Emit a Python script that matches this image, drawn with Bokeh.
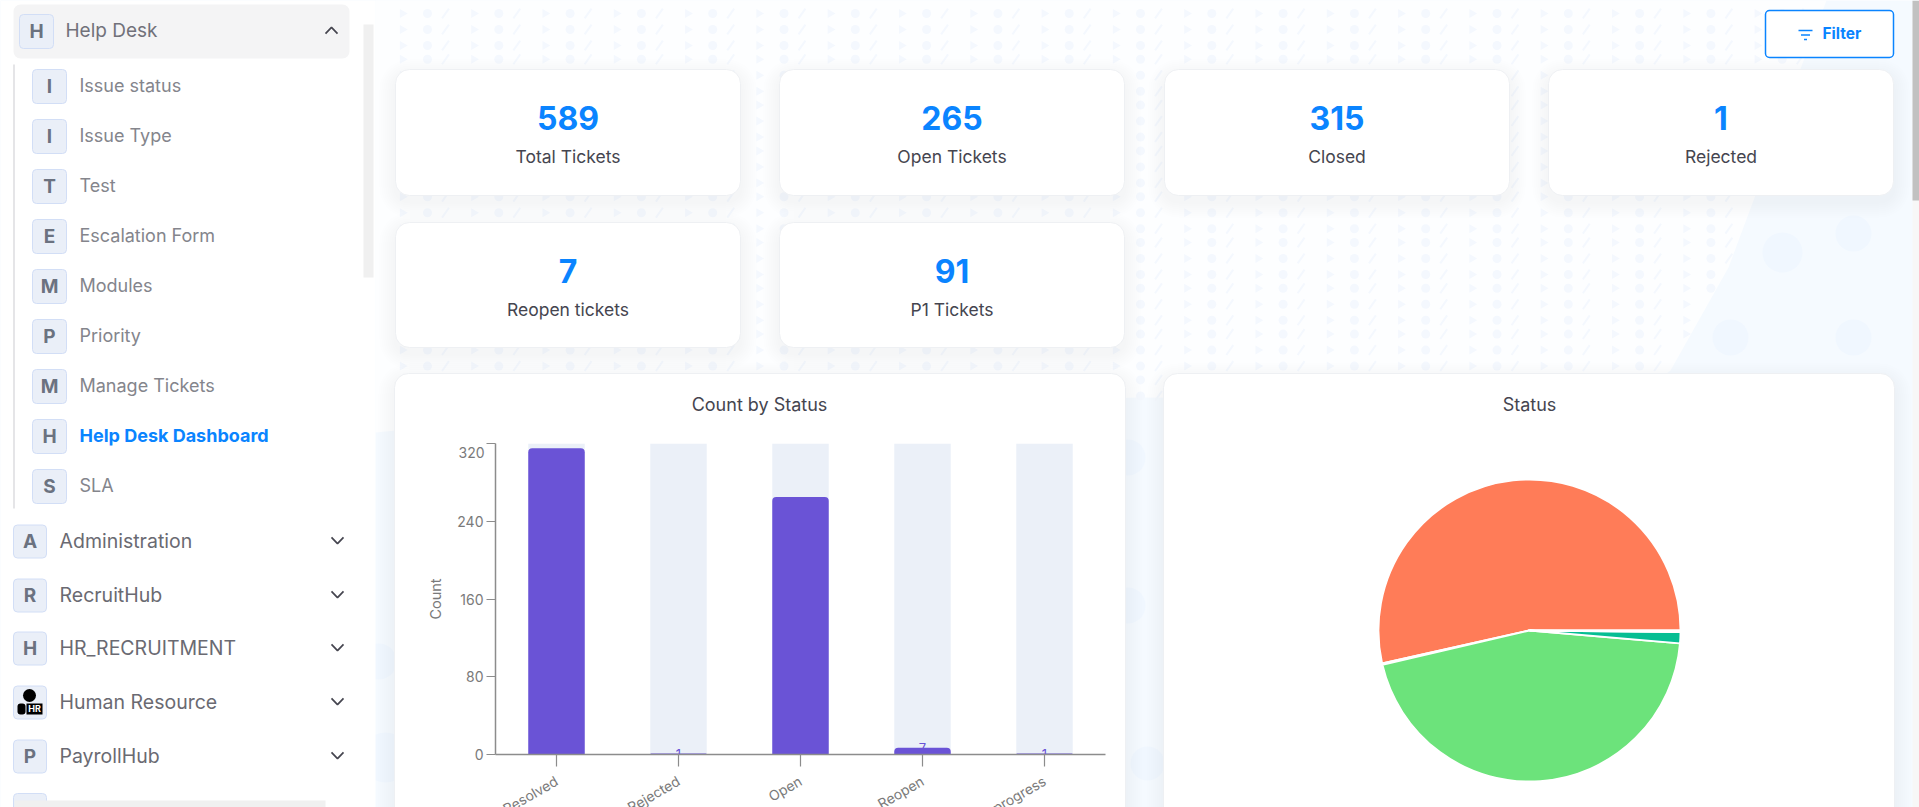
import math

import numpy as np
from bokeh.core.properties import value
from bokeh.embed import file_html
from bokeh.models import ColumnDataSource, FactorRange, FixedTicker, GridBox, Range1d
from bokeh.plotting import figure
from bokeh.resources import INLINE

statuses = ["Resolved", "Rejected", "Open", "Reopen", "Inprogress"]
status_counts = [315, 1, 265, 7, 1]
y_ticks = [0, 80, 160, 240, 320]
pie_colors = ["#ff7c58", "#e9e9ee", "#6ce37b", "#05be93", "#e9e9ee"]

kpi_values = ["589", "265", "315", "1", "7", "91"]
kpi_labels = ["Total Tickets", "Open Tickets", "Closed", "Rejected", "Reopen tickets", "P1 Tickets"]

sub_menu = ["Issue status", "Issue Type", "Test", "Escalation Form", "Modules", "Priority",
            "Manage Tickets", "Help Desk Dashboard", "SLA"]
main_menu = ["Administration", "RecruitHub", "HR_RECRUITMENT", "Human Resource", "PayrollHub"]

FONT = "Inter"
BLUE = "#0a84ff"
PURPLE = "#6a53d6"
AXIS = "#8c8c8c"
DARK = "#45454f"

bg = figure(width=1919, height=807, x_range=Range1d(0, 1919), y_range=Range1d(807, 0),
            x_axis_location=None, y_axis_location=None, frame_align=False,
            min_border=0, outline_line_color=None, toolbar_location=None,
            output_backend="svg", background_fill_color="#f5faff", border_fill_color="#f5faff")
bg.grid.visible = False


def put_text(x, y, text, size, color, align="left", style="normal", angle=0):
    bg.text(x=[x], y=[y - 1], text=[text], text_font=value(FONT), text_font_size=f"{size}px",
            text_color=color, text_align=align, text_baseline="middle",
            text_font_style=style, angle=angle)


def round_box(x0, y0, x1, y1, fill, line=None, radius=14, width=1):
    bg.quad(left=[x0], right=[x1], top=[y0], bottom=[y1], fill_color=fill, line_color=line,
            line_width=width, border_radius=radius)


def card(x0, y0, x1, y1):
    for grow in range(16, 0, -2):
        bg.quad(left=[x0 - grow], right=[x1 + grow], top=[y0 - grow + 6], bottom=[y1 + grow + 6],
                fill_color="#6d7f9c", fill_alpha=0.007, line_color=None, border_radius=14 + grow)
    round_box(x0, y0, x1, y1, "#ffffff", "#eef0f3")


def chevron(x, y, up=False):
    d = -4 if up else 4
    bg.line(x=[x - 6, x, x + 6], y=[y - d / 1.3, y + d / 1.3, y - d / 1.3], line_color="#45454f",
            line_width=1.7)


# page background: white shape with the dotted pattern on top of the pale blue
edge_y = [0, 63, 200, 267, 370, 400]
edge_x = [1826, 1802, 1753, 1728, 1670, 1630]
bg.patch(x=[375] + edge_x + [1140, 600, 375], y=[0] + edge_y + [397, 410, 432],
         fill_color="#fdfeff", line_color=None)

dots_x, dots_y, chev_x, chev_y, slash_x, slash_y = [], [], [], [], [], []
for row in range(9):
    for off in (0, 16, 32):
        y = 13 + 45.8 * row + off
        if y > 396:
            continue
        limit = np.interp(y, edge_y, edge_x)
        for col in range(22):
            x = 427 + 71.3 * col
            if x < limit:
                dots_x.append(x)
                dots_y.append(y)
            if x - 25 < limit:
                chev_x.append(x - 25)
                chev_y.append(y)
            if x + 18 < limit:
                slash_x.append(x + 18)
                slash_y.append(y)
bg.scatter(dots_x, dots_y, marker="circle", size=9, fill_color="#f4f8fe", line_color=None)
bg.scatter(chev_x, chev_y, marker="triangle", size=9, angle=-math.pi / 2,
           fill_color="#f4f8fe", line_color=None)
bg.scatter(slash_x, slash_y, marker="dash", size=12, angle=math.radians(55),
           line_color="#f4f8fe", line_width=2)

blob_x = [1782, 1853, 1730, 1853, 1127, 1127, 1147, 378, 385]
blob_y = [252, 233, 337, 337, 457, 605, 763, 661, 757]
blob_r = [20, 18, 18, 18, 18, 18, 17, 18, 25]
bg.circle(blob_x, blob_y, radius=blob_r, fill_color="#f0f7ff", line_color=None)

# kpi cards
card_x = [(395, 740), (779, 1124), (1164, 1509), (1548, 1893), (395, 740), (779, 1124)]
card_y = [(69, 195)] * 4 + [(222, 347)] * 2
for (x0, x1), (y0, y1), kpi, label in zip(card_x, card_y, kpi_values, kpi_labels):
    card(x0, y0, x1, y1)
    put_text((x0 + x1) / 2, y0 + 49, kpi, 32, BLUE, "center", "bold")
    put_text((x0 + x1) / 2, y0 + 88, label, 17.5, DARK, "center")

# chart cards
card(394, 373, 1125, 860)
card(1163, 373, 1894, 860)
put_text(759, 405, "Count by Status", 18, DARK, "center")
put_text(1529, 405, "Status", 18, DARK, "center")
put_text(484, 453, "320", 14, "#7a7a7a", "right")

# filter button
round_box(1765, 10, 1893, 57, "#ffffff", BLUE, radius=4, width=1.5)
for half, y in zip([7, 4.5, 1.5], [30, 34.5, 39]):
    bg.line(x=[1805 - half, 1805 + half], y=[y, y], line_color=BLUE, line_width=1.6)
put_text(1822, 33.5, "Filter", 15.5, BLUE, "left", "bold")

# sidebar
bg.quad(left=[0], right=[375], top=[0], bottom=[807], fill_color="#ffffff", line_color=None)
bg.quad(left=[363], right=[373], top=[24], bottom=[277], fill_color="#f0f0f0", line_color=None)
round_box(13, 4, 349, 58, "#f4f4f5", radius=7)
bg.line(x=[13.5, 13.5], y=[64, 508], line_color="#d4d4d8", line_width=1.2)


def icon(x0, y_mid, size, letter):
    round_box(x0, y_mid - size / 2, x0 + size, y_mid + size / 2, "#eaeff8", "#d2def6", radius=4)
    if letter:
        put_text(x0 + size / 2, y_mid + 0.5, letter, 19, "#6b7280", "center", "bold")


icon(19, 31, 34, "H")
put_text(65, 30.5, "Help Desk", 19, "#71717a")
chevron(331, 30, up=True)

for i, name in enumerate(sub_menu):
    y = 86 + 50 * i
    icon(32, y, 34, name[0])
    active = name == "Help Desk Dashboard"
    put_text(79, y, name, 18, BLUE if active else "#84858c", "left", "bold" if active else "normal")

for y, name in zip([541, 595, 648, 702, 756], main_menu):
    icon(13, y, 33, "" if name == "Human Resource" else name[0])
    put_text(59, y, name, 19.5, "#6a6a72")
    chevron(337, y - 1)
round_box(13, 793, 46, 826, "#eaeff8", "#d2def6", radius=4)
bg.quad(left=[14], right=[325], top=[800], bottom=[807], fill_color="#f0f0f0", line_color=None)

# HR icon
bg.circle([29], [695], radius=6.5, fill_color="#000000", line_color=None)
bg.quad(left=[17], right=[25], top=[703], bottom=[714], fill_color="#000000", line_color=None,
        border_radius=3)
bg.quad(left=[26], right=[42], top=[703], bottom=[714], fill_color="#000000", line_color=None)
put_text(34, 708.5, "HR", 9, "#ffffff", "center", "bold")

# page scrollbar
bg.quad(left=[1912], right=[1919], top=[0], bottom=[807], fill_color="#f7f7f7", line_color=None)
bg.quad(left=[1912], right=[1919], top=[0], bottom=[200], fill_color="#c1c1c1", line_color=None)

# bar chart
bars = figure(x_range=FactorRange(factors=statuses, range_padding=0), y_range=Range1d(0, 320),
              width=705, height=387, frame_width=610, frame_height=311,
              margin=(420, 0, 0, 420), frame_align=False,
              min_border_left=75, min_border_right=20, min_border_top=23, min_border_bottom=53,
              outline_line_color=None, toolbar_location=None, output_backend="svg",
              background_fill_color=None, border_fill_color=None)
source = ColumnDataSource(dict(status=statuses, count=status_counts, track=[y_ticks[-1]] * len(statuses)))
bars.vbar(x="status", top="track", width=0.463, source=source, fill_color="#ebf0f8", line_color=None)
bars.vbar(x="status", top="count", width=0.463, source=source, fill_color=PURPLE, line_color=None,
          border_radius=(4, 4, 0, 0))
# only the labels of the tiny bars can be seen, the others sit on their own colour
small = [i for i, c in enumerate(status_counts) if c < 10]
bars.text(x=[statuses[i] for i in small], y=[status_counts[i] for i in small],
          text=[str(status_counts[i]) for i in small], text_color=PURPLE, text_font=value(FONT),
          text_font_size="13px", text_align="center", text_baseline="middle")
bars.grid.visible = False

bars.xaxis.major_label_orientation = math.radians(30)
bars.xaxis.major_label_standoff = 13
bars.xaxis.major_tick_out = 12
bars.xaxis.major_tick_in = 0
bars.yaxis.ticker = FixedTicker(ticks=y_ticks)
bars.yaxis.major_label_overrides = {320: ""}
bars.yaxis.major_tick_out = 9
bars.yaxis.major_tick_in = 0
bars.yaxis.minor_tick_line_color = None
bars.yaxis.major_label_standoff = 3
bars.yaxis.axis_label = "Count"
bars.yaxis.axis_label_text_font = FONT
bars.yaxis.axis_label_text_font_size = "14.5px"
bars.yaxis.axis_label_text_font_style = "normal"
bars.yaxis.axis_label_text_color = "#7a7a7a"
bars.yaxis.axis_label_standoff = 10
for axis in (bars.xaxis, bars.yaxis):
    axis.axis_line_color = AXIS
    axis.axis_line_width = 1.5
    axis.major_tick_line_color = AXIS
    axis.major_tick_line_width = 1.2
    axis.major_label_text_font = FONT
    axis.major_label_text_font_size = "14px"
    axis.major_label_text_color = "#7a7a7a"

# pie chart, counter clockwise from 3 o'clock
shares = np.array(status_counts) / sum(status_counts) * 2 * math.pi
ends = np.cumsum(shares)
starts = ends - shares
pie = figure(x_range=Range1d(-160 / 151, 160 / 151), y_range=Range1d(-160 / 151, 160 / 151),
             width=320, height=320, margin=(470, 0, 0, 1369), min_border=0, frame_align=False,
             x_axis_location=None, y_axis_location=None,
             outline_line_color=None, toolbar_location=None, output_backend="svg",
             background_fill_color=None, border_fill_color=None)
pie.wedge(x=0, y=0, radius=1, start_angle=starts, end_angle=ends, direction="anticlock",
          fill_color=pie_colors, line_color="#ffffff", line_width=1.8)
pie.grid.visible = False

p = GridBox(children=[(bg, 0, 0), (bars, 0, 0), (pie, 0, 0)])

open("out.html", "w").write(file_html(p, INLINE))
